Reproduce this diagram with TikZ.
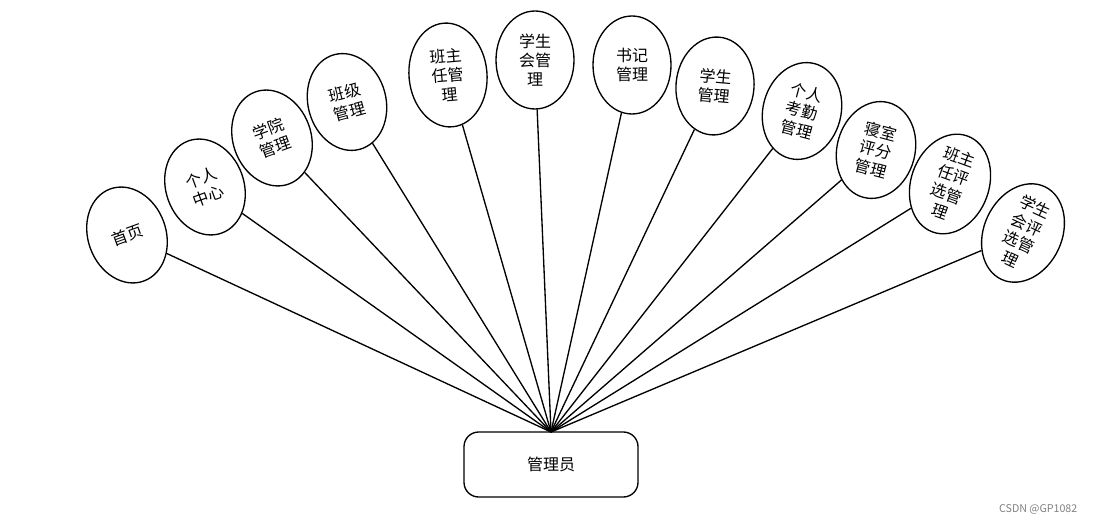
\documentclass[tikz,border=0pt]{standalone}
\usepackage{fontspec}
\setmainfont{Noto Sans CJK SC}
\usetikzlibrary{shapes.geometric}
\begin{document}
\begin{tikzpicture}[x=0.75pt,y=-0.75pt,
  el/.style={draw,line width=1pt,ellipse,fill=white,minimum width=78*0.75pt,minimum height=98*0.75pt,inner sep=0pt,align=center,font=\fontsize{12}{14.5}\selectfont},
  ln/.style={line width=1pt}]
\useasboundingbox (0,0) rectangle (1094,523);
\node[draw,line width=1pt,rounded corners=11pt,minimum width=174*0.75pt,minimum height=65*0.75pt,font=\fontsize{12}{14}\selectfont] (hub) at (551,464.5) {管理员};
\coordinate (h) at (551,432);
\node[el,rotate=20] (a1) at (127,235) {首页};
\node[el,rotate=20] (a2) at (205,187) {个人\\中心};
\node[el,rotate=20] (a3) at (272,138) {学院\\管理};
\node[el,rotate=15] (a4) at (347,102) {班级\\管理};
\node[el,rotate=5,minimum height=104*0.75pt] (a5) at (448,75) {班主\\任管\\理};
\node[el,minimum height=98*0.75pt] (a6) at (535,60) {学生\\会管\\理};
\node[el] (a7) at (632,65) {书记\\管理};
\node[el,rotate=-5] (a8) at (715,86) {学生\\管理};
\node[el,rotate=-15] (a9) at (802,111) {个人\\考勤\\管理};
\node[el,rotate=-15] (a10) at (876,150) {寝室\\评分\\管理};
\node[el,rotate=-20] (a11) at (950,184) {班主\\任评\\选管\\理};
\node[el,rotate=-25] (a12) at (1023,233) {学生\\会评\\选管\\理};
\foreach \i in {1,...,12} \draw[ln] (h) -- (a\i);
\node[anchor=east,text=gray,font=\fontsize{8}{10}\selectfont] (wm) at (1082,509) {CSDN @GP1082};
\end{tikzpicture}
\end{document}
